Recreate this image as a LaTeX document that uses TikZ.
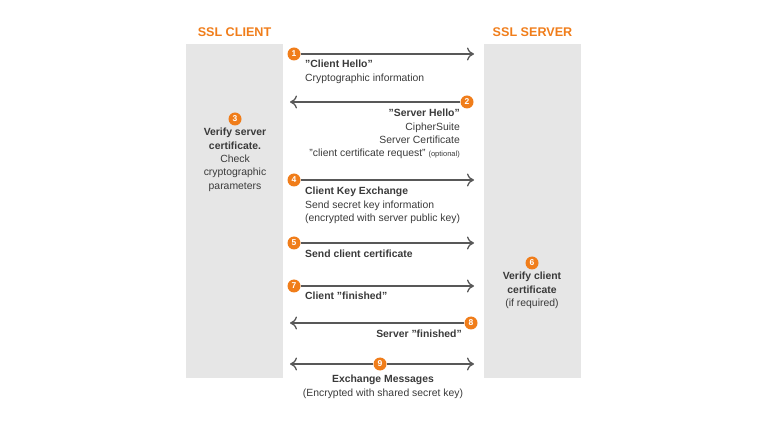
\documentclass[tikz,border=0pt]{standalone}
\usepackage{fontspec}
\setmainfont{Liberation Sans}
\usetikzlibrary{arrows.meta}
\definecolor{sslorange}{HTML}{F07D1A}
\definecolor{sslgray}{HTML}{E6E6E6}
\definecolor{ssltext}{HTML}{3A3A3A}
\tikzset{
  panel/.style={fill=sslgray, draw=none},
  stepno/.style={circle, fill=sslorange, text=white, inner sep=0pt, minimum size=13pt, font=\fontsize{8.5}{9}\selectfont\bfseries},
  msg/.style={draw=ssltext!85, line width=1.3pt, -{To[length=7pt,width=13pt]}},
  txt/.style={text=ssltext, font=\fontsize{10.4}{13.4}\selectfont, inner sep=0pt},
  head/.style={text=sslorange, font=\fontsize{12.6}{14}\selectfont\bfseries}
}
\begin{document}
\begin{tikzpicture}[x=1pt,y=-1pt]
  \useasboundingbox (0,0) rectangle (768,427);
  % side panels
  \fill[panel] (186,44) rectangle (283,378);
  \fill[panel] (484,44) rectangle (581,378);
  \node[head] (client) at (234.5,32) {SSL CLIENT};
  \node[head] (server) at (532.5,32) {SSL SERVER};
  % step numbers
  \node[stepno] (s1) at (294,54) {1};
  \node[stepno] (s2) at (467,102) {2};
  \node[stepno] (s3) at (235,119) {3};
  \node[stepno] (s4) at (294,180) {4};
  \node[stepno] (s5) at (294,243) {5};
  \node[stepno] (s6) at (532,263) {6};
  \node[stepno] (s7) at (294,286) {7};
  \node[stepno] (s8) at (471,323) {8};
  \node[stepno] (s9) at (380,364) {9};
  % arrow ends
  \coordinate (e1) at (474,54);
  \coordinate (e2) at (290,102);
  \coordinate (e4) at (474,180);
  \coordinate (e5) at (474,243);
  \coordinate (e7) at (474,286);
  \coordinate (e8) at (290,323);
  \coordinate (e9l) at (290,364);
  \coordinate (e9r) at (474,364);
  \draw[msg] (s1) -- (e1);
  \draw[msg] (s2) -- (e2);
  \draw[msg] (s4) -- (e4);
  \draw[msg] (s5) -- (e5);
  \draw[msg] (s7) -- (e7);
  \draw[msg] (s8) -- (e8);
  \draw[msg] (s9) -- (e9l);
  \draw[msg] (s9) -- (e9r);
  % labels
  \node[txt, anchor=north west, align=left] (t1) at (305,60) {\textbf{"Client Hello"}\\Cryptographic information};
  \node[txt, anchor=north east, align=right] (t2) at (460,109) {\textbf{"Server Hello"}\\CipherSuite\\Server Certificate\\"client certificate request" {\fontsize{7.5}{8}\selectfont(optional)}};
  \node[txt, anchor=north, align=center] (t3) at (235,128) {\textbf{Verify server}\\\textbf{certificate.}\\Check\\cryptographic\\parameters};
  \node[txt, anchor=north west, align=left] (t4) at (305,187) {\textbf{Client Key Exchange}\\Send secret key information\\(encrypted with server public key)};
  \node[txt, anchor=north west, align=left] (t5) at (305,250) {\textbf{Send client certificate}};
  \node[txt, anchor=north, align=center] (t6) at (532,272) {\textbf{Verify client}\\\textbf{certificate}\\(if required)};
  \node[txt, anchor=north west, align=left] (t7) at (305,292) {\textbf{Client "finished"}};
  \node[txt, anchor=north east, align=right] (t8) at (462,330) {\textbf{Server "finished"}};
  \node[txt, anchor=north, align=center] (t9) at (383,375) {\textbf{Exchange Messages}\\(Encrypted with shared secret key)};
\end{tikzpicture}
\end{document}
